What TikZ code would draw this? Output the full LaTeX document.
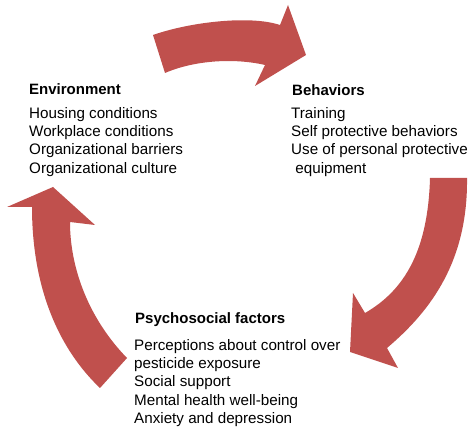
\documentclass[tikz,border=0pt]{standalone}
\usepackage{fontspec}
\setmainfont{Liberation Sans}
\definecolor{arrowred}{RGB}{192,80,77}
\tikzset{
  cyclearrow/.style={fill=arrowred, draw=none},
  boxtitle/.style={anchor=base west, inner sep=0pt, font=\fontsize{15}{18.3}\selectfont\bfseries},
  boxbody/.style={anchor=north west, inner sep=0pt, align=left, font=\fontsize{15.2}{18.3}\selectfont}
}
\begin{document}
\begin{tikzpicture}[x=1pt, y=-1pt]
\useasboundingbox (0,0) rectangle (474,435);
%points of top arrow

\coordinate (TA) at (153,35);  %tail, upper corner
\coordinate (TB) at (165,73);  %tail, lower corner
\coordinate (TC) at (280,25);  %head, upper join
\coordinate (TD) at (288,5);   %head, upper barb
\coordinate (TE) at (306,55);  %head, tip
\coordinate (TF) at (255,86);  %head, lower barb
\coordinate (TG) at (265,65);  %head, lower join

%points of right arrow

\coordinate (RA) at (430,178);
\coordinate (RB) at (467,178);
\coordinate (RC) at (387,348);
\coordinate (RD) at (398,368);
\coordinate (RE) at (350,352);
\coordinate (RF) at (353,293);
\coordinate (RG) at (365,313);

%points of left arrow

\coordinate (LA) at (100,388);
\coordinate (LB) at (127,358);
\coordinate (LC) at (70,222);
\coordinate (LD) at (95,225);
\coordinate (LE) at (53,187);
\coordinate (LF) at (7,207);
\coordinate (LG) at (32,207);

%draw the arrows
\fill [cyclearrow] (TA) .. controls (190,22) and (250,15) .. (TC) -- (TD) -- (TE) -- (TF) -- (TG) .. controls (235,58) and (195,60) .. (TB) -- cycle;
\fill [cyclearrow] (RA) -- (RB) .. controls (468,260) and (432,310) .. (RC) -- (RD) -- (RE) -- (RF) -- (RG) .. controls (405,290) and (428,250) .. (RA) -- cycle;
\fill [cyclearrow] (LA) -- (LB) .. controls (90,320) and (70,270) .. (LC) -- (LD) -- (LE) -- (LF) -- (LG) .. controls (32,290) and (60,350) .. (LA) -- cycle;

%text blocks
\node [boxtitle] (envtitle) at (29,95) {Environment};
\node [boxbody] (envbody) at (29,107) {Housing conditions\\Workplace conditions\\Organizational barriers\\Organizational culture};

\node [boxtitle] (behtitle) at (292,96) {Behaviors};
\node [boxbody] (behbody) at (291,107) {Training\\Self protective behaviors\\Use of personal protective\\\hspace*{4.2pt}equipment};

\node [boxtitle] (psytitle) at (135,324) {Psychosocial factors};
\node [boxbody] (psybody) at (134,339) {Perceptions about control over\\pesticide exposure\\Social support\\Mental health well-being\\Anxiety and depression};
\end{tikzpicture}
\end{document}
